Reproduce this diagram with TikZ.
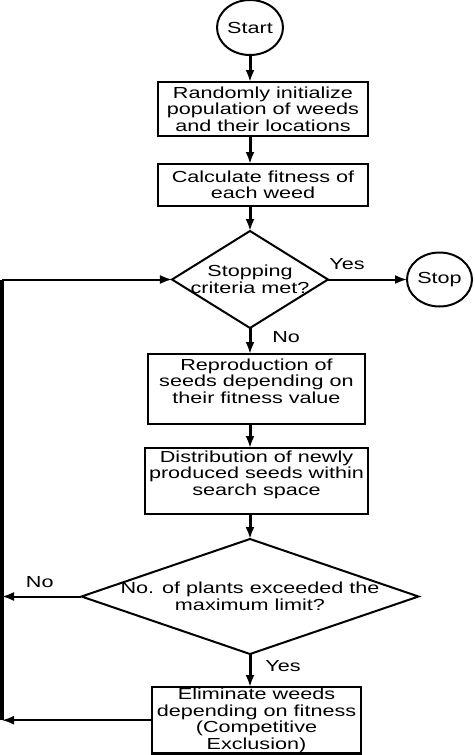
\documentclass[tikz,border=0pt]{standalone}
\usepackage{fontspec}
\setmainfont{Liberation Sans}[FakeStretch=1.35]
\usetikzlibrary{arrows.meta,positioning,shapes.geometric}

\begin{document}
\begin{tikzpicture}[x=1pt,y=1pt,>={Latex[length=12pt,width=9pt]},
  font=\fontsize{16pt}{16.5pt}\selectfont,outer sep=0pt,
  terminal/.style={draw,ellipse,line width=2pt,inner sep=0pt,
    minimum width=66pt,minimum height=55pt},
  process/.style={draw,rectangle,line width=2.2pt,align=center,inner sep=1pt},
  decision/.style={draw,diamond,line width=2pt,align=center,inner sep=-3pt},
  flow/.style={->,line width=3pt},
  side/.style={->,line width=2pt}]
\useasboundingbox (0,0) rectangle (474,-755);
\node[terminal] (start) at (250,-27.5) {Start};
\node[process,minimum width=210pt,minimum height=54pt] (init) [below=27pt of start,xshift=13pt]
  {Randomly initialize\\population of weeds\\and their locations};
\node[process,minimum width=210pt,minimum height=42pt] (fit) [below=28pt of init]
  {Calculate fitness of\\each weed};
\node[decision,aspect=1.61,minimum width=156pt,minimum height=97pt] (crit) [below=25pt of fit,xshift=-13pt]
  {Stopping\\criteria met?};
\node[terminal,minimum width=65pt,minimum height=54pt] (stop) [right=79pt of crit] {Stop};
\node[process,minimum width=217pt,minimum height=70pt] (repro) [below=26pt of crit,xshift=6.5pt]
  {Reproduction of\\seeds depending on\\their fitness value\\\mbox{}};
\node[process,minimum width=223pt,minimum height=66pt] (distr) [below=24pt of repro]
  {Distribution of newly\\produced seeds within\\search space\\\mbox{}};
\node[decision,aspect=2.93,minimum width=337pt,minimum height=115pt] (limit) [below=25pt of distr,xshift=-6.5pt]
  {No. of plants exceeded the\\maximum limit?};
\node[process,minimum width=209pt,minimum height=66pt] (elim) [below=33pt of limit,xshift=6.5pt]
  {Eliminate weeds\\depending on fitness\\(Competitive\\Exclusion)};
\coordinate (rail) at (2,0);
% main flow
\draw[flow] (start) -- (init.north -| start);
\draw[flow] (init.south -| start) -- (fit.north -| start);
\draw[flow] (fit.south -| start) -- (crit);
\draw[flow] (crit) -- node[right=19pt,pos=0.35] {No} (repro.north -| crit);
\draw[flow] (repro.south -| crit) -- (distr.north -| crit);
\draw[flow] (distr.south -| crit) -- (limit);
\draw[flow] (limit) -- node[right=12pt,pos=0.36] {Yes} (elim.north -| limit);
\draw[side] (crit) -- node[above=7pt,pos=0.24] {Yes} (stop);
% loop back
\draw[side] (limit) -- node[above=6pt,pos=0.525] {No} (limit.west -| rail);
\draw[side] (elim) -- (elim.west -| rail);
\draw[line width=3.5pt] (elim.west -| rail) -- (crit.west -| rail);
\draw[side] (crit.west -| rail) -- (crit);
\end{tikzpicture}
\end{document}
